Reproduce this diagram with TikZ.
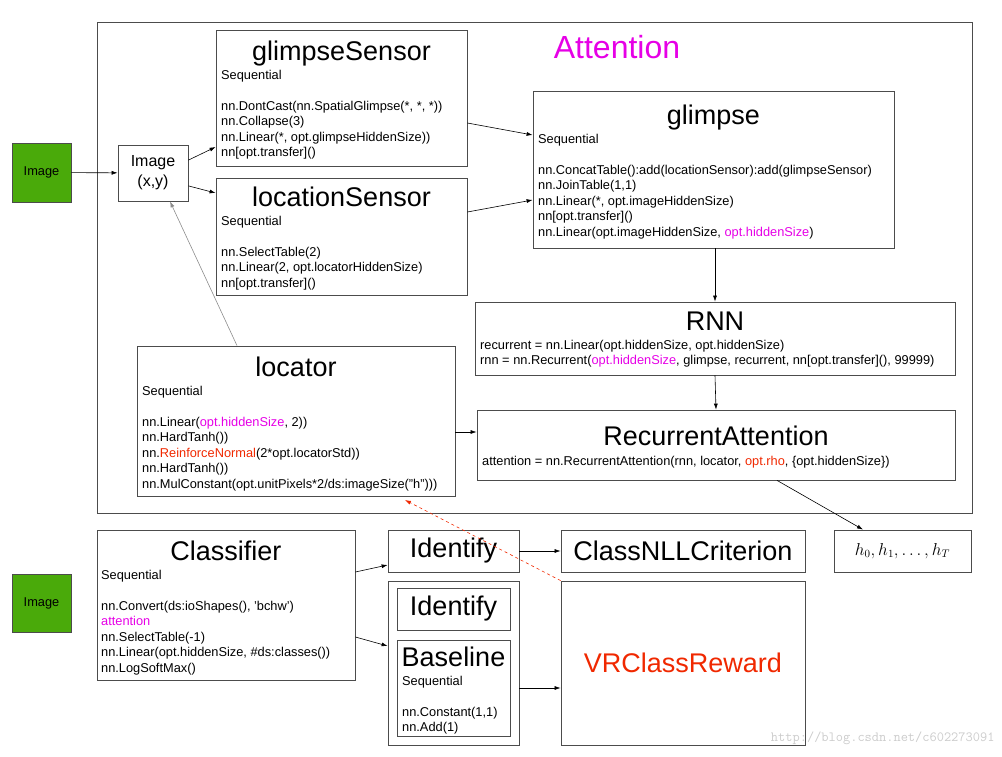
\documentclass[tikz,border=0pt]{standalone}
\usepackage{fontspec}
\setmainfont{Liberation Sans}
\usetikzlibrary{arrows.meta,positioning}
\definecolor{imggreen}{RGB}{74,170,10}
\definecolor{optmag}{RGB}{230,0,230}
\definecolor{optred}{RGB}{240,40,0}
\newcommand{\bodyfont}{\fontsize{12.8}{15.5}\selectfont}
\newcommand{\titlefont}{\fontsize{27}{30}\selectfont}
\newcommand{\opt}[1]{\textcolor{optmag}{#1}}
\begin{document}
\begin{tikzpicture}[x=1pt,y=-1pt,>={Latex[length=6pt,width=4pt]},
    box/.style={draw=black!70,line width=0.8pt},
    title/.style={font=\titlefont,anchor=north,inner sep=0pt},
    body/.style={font=\bodyfont,anchor=north west,align=left,inner sep=0pt},
    link/.style={->,line width=0.6pt}]
  \useasboundingbox (0,0) rectangle (1002,757);
  % attention frame
  \draw[box] (97,22) rectangle (972,513);
  \node[font=\fontsize{32}{36}\selectfont,text=optmag] (att) at (617,47) {Attention};
  % inputs
  \node[box,fill=imggreen,minimum width=59,minimum height=59,font=\bodyfont] (img) at (41.5,172.5) {Image};
  \node[box,minimum width=70,minimum height=56,align=center,font=\fontsize{16}{20}\selectfont] (imgxy) at (153,173) {Image\\(x,y)};
  % glimpseSensor
  \node[box,minimum width=251,minimum height=136] (gs) at (341.5,98) {};
  \node[title] at (341.5,41) {glimpseSensor};
  \node[body] at (221,70) {Sequential\\[15.5pt]nn.DontCast(nn.SpatialGlimpse(*, *, *))\\nn.Collapse(3)\\nn.Linear(*, opt.glimpseHiddenSize))\\nn[opt.transfer]()};
  % locationSensor
  \node[box,minimum width=251,minimum height=117] (ls) at (341.5,236.5) {};
  \node[title] at (341.5,187) {locationSensor};
  \node[body] at (221,216) {Sequential\\[15.5pt]nn.SelectTable(2)\\nn.Linear(2, opt.locatorHiddenSize)\\nn[opt.transfer]()};
  % glimpse
  \node[box,minimum width=361,minimum height=157] (gl) at (713.5,169.5) {};
  \node[title] at (713.5,105) {glimpse};
  \node[body] at (538,134) {Sequential\\[15.5pt]nn.ConcatTable():add(locationSensor):add(glimpseSensor)\\nn.JoinTable(1,1)\\nn.Linear(*, opt.imageHiddenSize)\\nn[opt.transfer]()\\nn.Linear(opt.imageHiddenSize, \opt{opt.hiddenSize})};
  % RNN
  \node[box,minimum width=480,minimum height=73] (rnn) at (715,338.5) {};
  \node[title] at (715,312) {RNN};
  \node[body] at (480,340) {recurrent = nn.Linear(opt.hiddenSize, opt.hiddenSize)\\rnn = nn.Recurrent(\opt{opt.hiddenSize}, glimpse, recurrent, nn[opt.transfer](), 99999)};
  % locator
  \node[box,minimum width=318,minimum height=150] (loc) at (296,421) {};
  \node[title] at (296,357) {locator};
  \node[body] at (142,386) {Sequential\\[15.5pt]nn.Linear(\opt{opt.hiddenSize}, 2))\\nn.HardTanh())\\nn.\textcolor{optred}{ReinforceNormal}(2*opt.locatorStd))\\nn.HardTanh())\\nn.MulConstant(opt.unitPixels*2/ds:imageSize("h")))};
  % RecurrentAttention
  \node[box,minimum width=478,minimum height=70] (ra) at (716,445) {};
  \node[title] at (716,426) {RecurrentAttention};
  \node[body] at (482,456) {attention = nn.RecurrentAttention(rnn, locator, \textcolor{optred}{opt.rho}, \{opt.hiddenSize\})};
  % outputs
  \node[box,minimum width=137,minimum height=42,font=\fontsize{16}{20}\selectfont] (hs) at (902.5,551) {$h_0,h_1,\ldots,h_T$};
  % classifier
  \node[box,fill=imggreen,minimum width=59,minimum height=58,font=\bodyfont] (img2) at (41.5,603) {Image};
  \node[box,minimum width=258,minimum height=150] (cls) at (226,605) {};
  \node[title] at (226,541) {Classifier};
  \node[body] at (101,570) {Sequential\\[15.5pt]nn.Convert(ds:ioShapes(), 'bchw')\\\opt{attention}\\nn.SelectTable(-1)\\nn.Linear(opt.hiddenSize, \#ds:classes())\\nn.LogSoftMax()};
  \node[box,minimum width=131,minimum height=42,font=\titlefont] (id1) at (453.5,551) {Identify};
  \node[box,minimum width=244,minimum height=42,font=\titlefont] (nll) at (683,551) {ClassNLLCriterion};
  \node[box,minimum width=131,minimum height=164] (grp) at (453.5,663) {};
  \node[box,minimum width=113,minimum height=42,font=\titlefont] (id2) at (453.5,609) {Identify};
  \node[box,minimum width=113,minimum height=96] (base) at (453.5,688) {};
  \node[title] at (453.5,647) {Baseline};
  \node[body] at (402,676) {Sequential\\[15.5pt]nn.Constant(1,1)\\nn.Add(1)};
  \node[box,minimum width=244,minimum height=164,font=\titlefont,text=optred] (vr) at (683,663) {VRClassReward};
  \node[font=\ttfamily\fontsize{14}{16}\selectfont,text=black!20,anchor=south east] (wm) at (998,748) {http://blog.csdn.net/c602273091};
  % connectors
  \draw[link] (img) -- (imgxy);
  \draw[link] (imgxy.20) -- (gs.west |- 0,147);
  \draw[link] (imgxy.-20) -- (ls.west |- 0,193);
  \draw[link] (gs.east |- 0,123) -- (gl.west |- 0,135);
  \draw[link] (ls.east |- 0,212) -- (gl.west |- 0,200);
  \draw[link] (gl.south -| rnn.north) -- (rnn.north);
  \draw[link] (rnn.south) -- (ra.north);
  \draw[link] (loc.east |- 0,432) -- (ra.west |- 0,432);
  \draw[->,line width=0.6pt,draw=black!45] (loc.north -| 237,0) -- (imgxy.south -| 170,0);
  \draw[link] (ra.south -| 777,0) -- (hs.north -| 863,0);
  \draw[link] (cls.east |- 0,572) -- (id1.west |- 0,565);
  \draw[link] (cls.east |- 0,637) -- (grp.west |- 0,646);
  \draw[link] (id1) -- (nll);
  \draw[link] (grp.east |- base) -- (vr.west |- base);
  \draw[->,dashed,draw=optred,line width=0.6pt] (vr.north west) -- (405,500);
\end{tikzpicture}
\end{document}
